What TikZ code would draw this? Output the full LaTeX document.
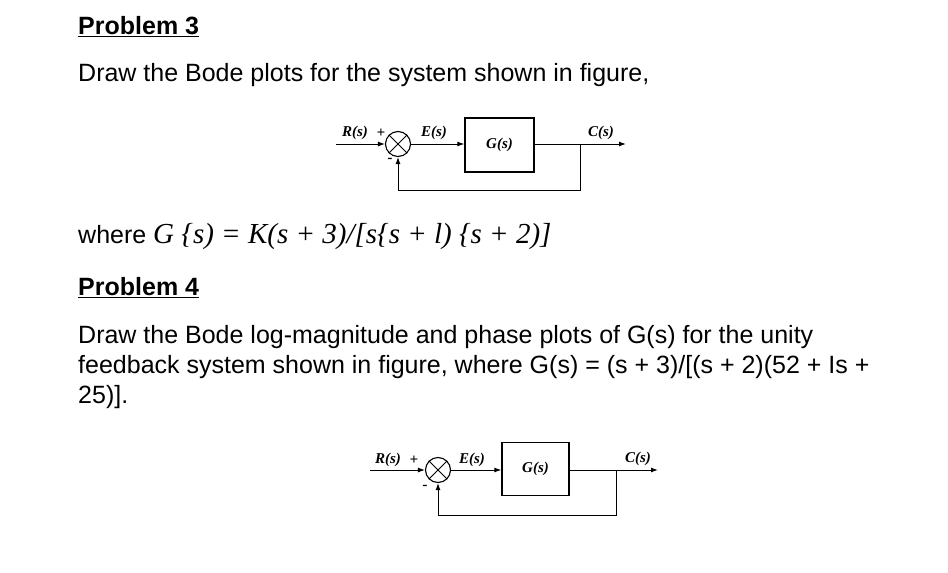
\documentclass[tikz,border=0pt]{standalone}
\usepackage{fontspec}
\setmainfont{Liberation Sans}
\newfontfamily\tms{Liberation Serif}
\usetikzlibrary{arrows.meta}
\begin{document}
\begin{tikzpicture}[x=1pt,y=-1pt,
  txt/.style={anchor=west,inner sep=0pt,font=\fontsize{25}{30}\selectfont},
  lbl/.style={inner sep=0pt,font=\tms\itshape\bfseries\fontsize{15}{16}\selectfont},
  blk/.style={draw,line width=1.3pt,inner sep=0pt},
  sj/.style={draw,circle,line width=1.1pt,minimum size=25pt,inner sep=0pt},
  ln/.style={line width=1pt},
  ar/.style={ln,-{Latex[length=7pt,width=5pt]}}]
\useasboundingbox (0,0) rectangle (948,573);
\node[txt] (p3) at (78,27) {\textbf{\underline{Problem 3}}};
\node[txt] (t1) at (78,75) {Draw the Bode plots for the system shown in figure,};
\node[txt] (t2) at (78,237) {where {\tms\itshape\fontsize{29}{30}\selectfont G \{s) = K(s + 3)/[s\{s + l) \{s + 2)]}};
\node[txt] (p4) at (78,288) {\textbf{\underline{Problem 4}}};
\node[txt] (t3) at (78,337) {Draw the Bode log-magnitude and phase plots of G(s) for the unity};
\node[txt] (t4) at (78,367) {feedback system shown in figure, where G(s) = (s + 3)/[(s + 2)(52 + Is +};
\node[txt] (t5) at (78,397) {25)].};
% diagram 1
\coordinate (a1in) at (336,144);
\node[sj] (s1) at (398,144) {};
\draw[ln] (s1.north west) -- (s1.south east) (s1.north east) -- (s1.south west);
\node[blk,minimum width=69pt,minimum height=54pt] (g1) at (499.5,145) {};
\node[lbl] at (g1) {G(s)};
\coordinate (o1) at (626,144);
\coordinate (b1) at (580,144);
\coordinate (f1) at (580,190);
\coordinate (f1b) at (398,190);
\draw[ar] (a1in) -- (s1);
\draw[ar] (s1) -- (g1.west |- s1);
\draw[ar] (g1.east |- s1) -- (o1);
\draw[ln] (b1) -- (f1) -- (f1b);
\draw[ar] (f1b) -- (s1);
\node[lbl] (r1) at (355,133) {R(s)};
\node[lbl] (pl1) at (381,133) {+};
\node[lbl] (mi1) at (390,160) {-};
\node[lbl] (e1) at (434,133) {E(s)};
\node[lbl] (c1) at (601,133) {C(s)};
% diagram 2
\coordinate (a2in) at (370,470);
\node[sj] (s2) at (438,470) {};
\draw[ln] (s2.north west) -- (s2.south east) (s2.north east) -- (s2.south west);
\node[blk,minimum width=67pt,minimum height=53pt] (g2) at (535.5,469) {};
\node[lbl] at (g2) {G(s)};
\coordinate (o2) at (658,470);
\coordinate (b2) at (616,470);
\coordinate (f2) at (616,515);
\coordinate (f2b) at (438,515);
\draw[ar] (a2in) -- (s2);
\draw[ar] (s2) -- (g2.west |- s2);
\draw[ar] (g2.east |- s2) -- (o2);
\draw[ln] (b2) -- (f2) -- (f2b);
\draw[ar] (f2b) -- (s2);
\node[lbl] (r2) at (388,460) {R(s)};
\node[lbl] (pl2) at (414,460) {+};
\node[lbl] (mi2) at (425,487) {-};
\node[lbl] (e2) at (472,460) {E(s)};
\node[lbl] (c2) at (638,459) {C(s)};
\end{tikzpicture}
\end{document}
